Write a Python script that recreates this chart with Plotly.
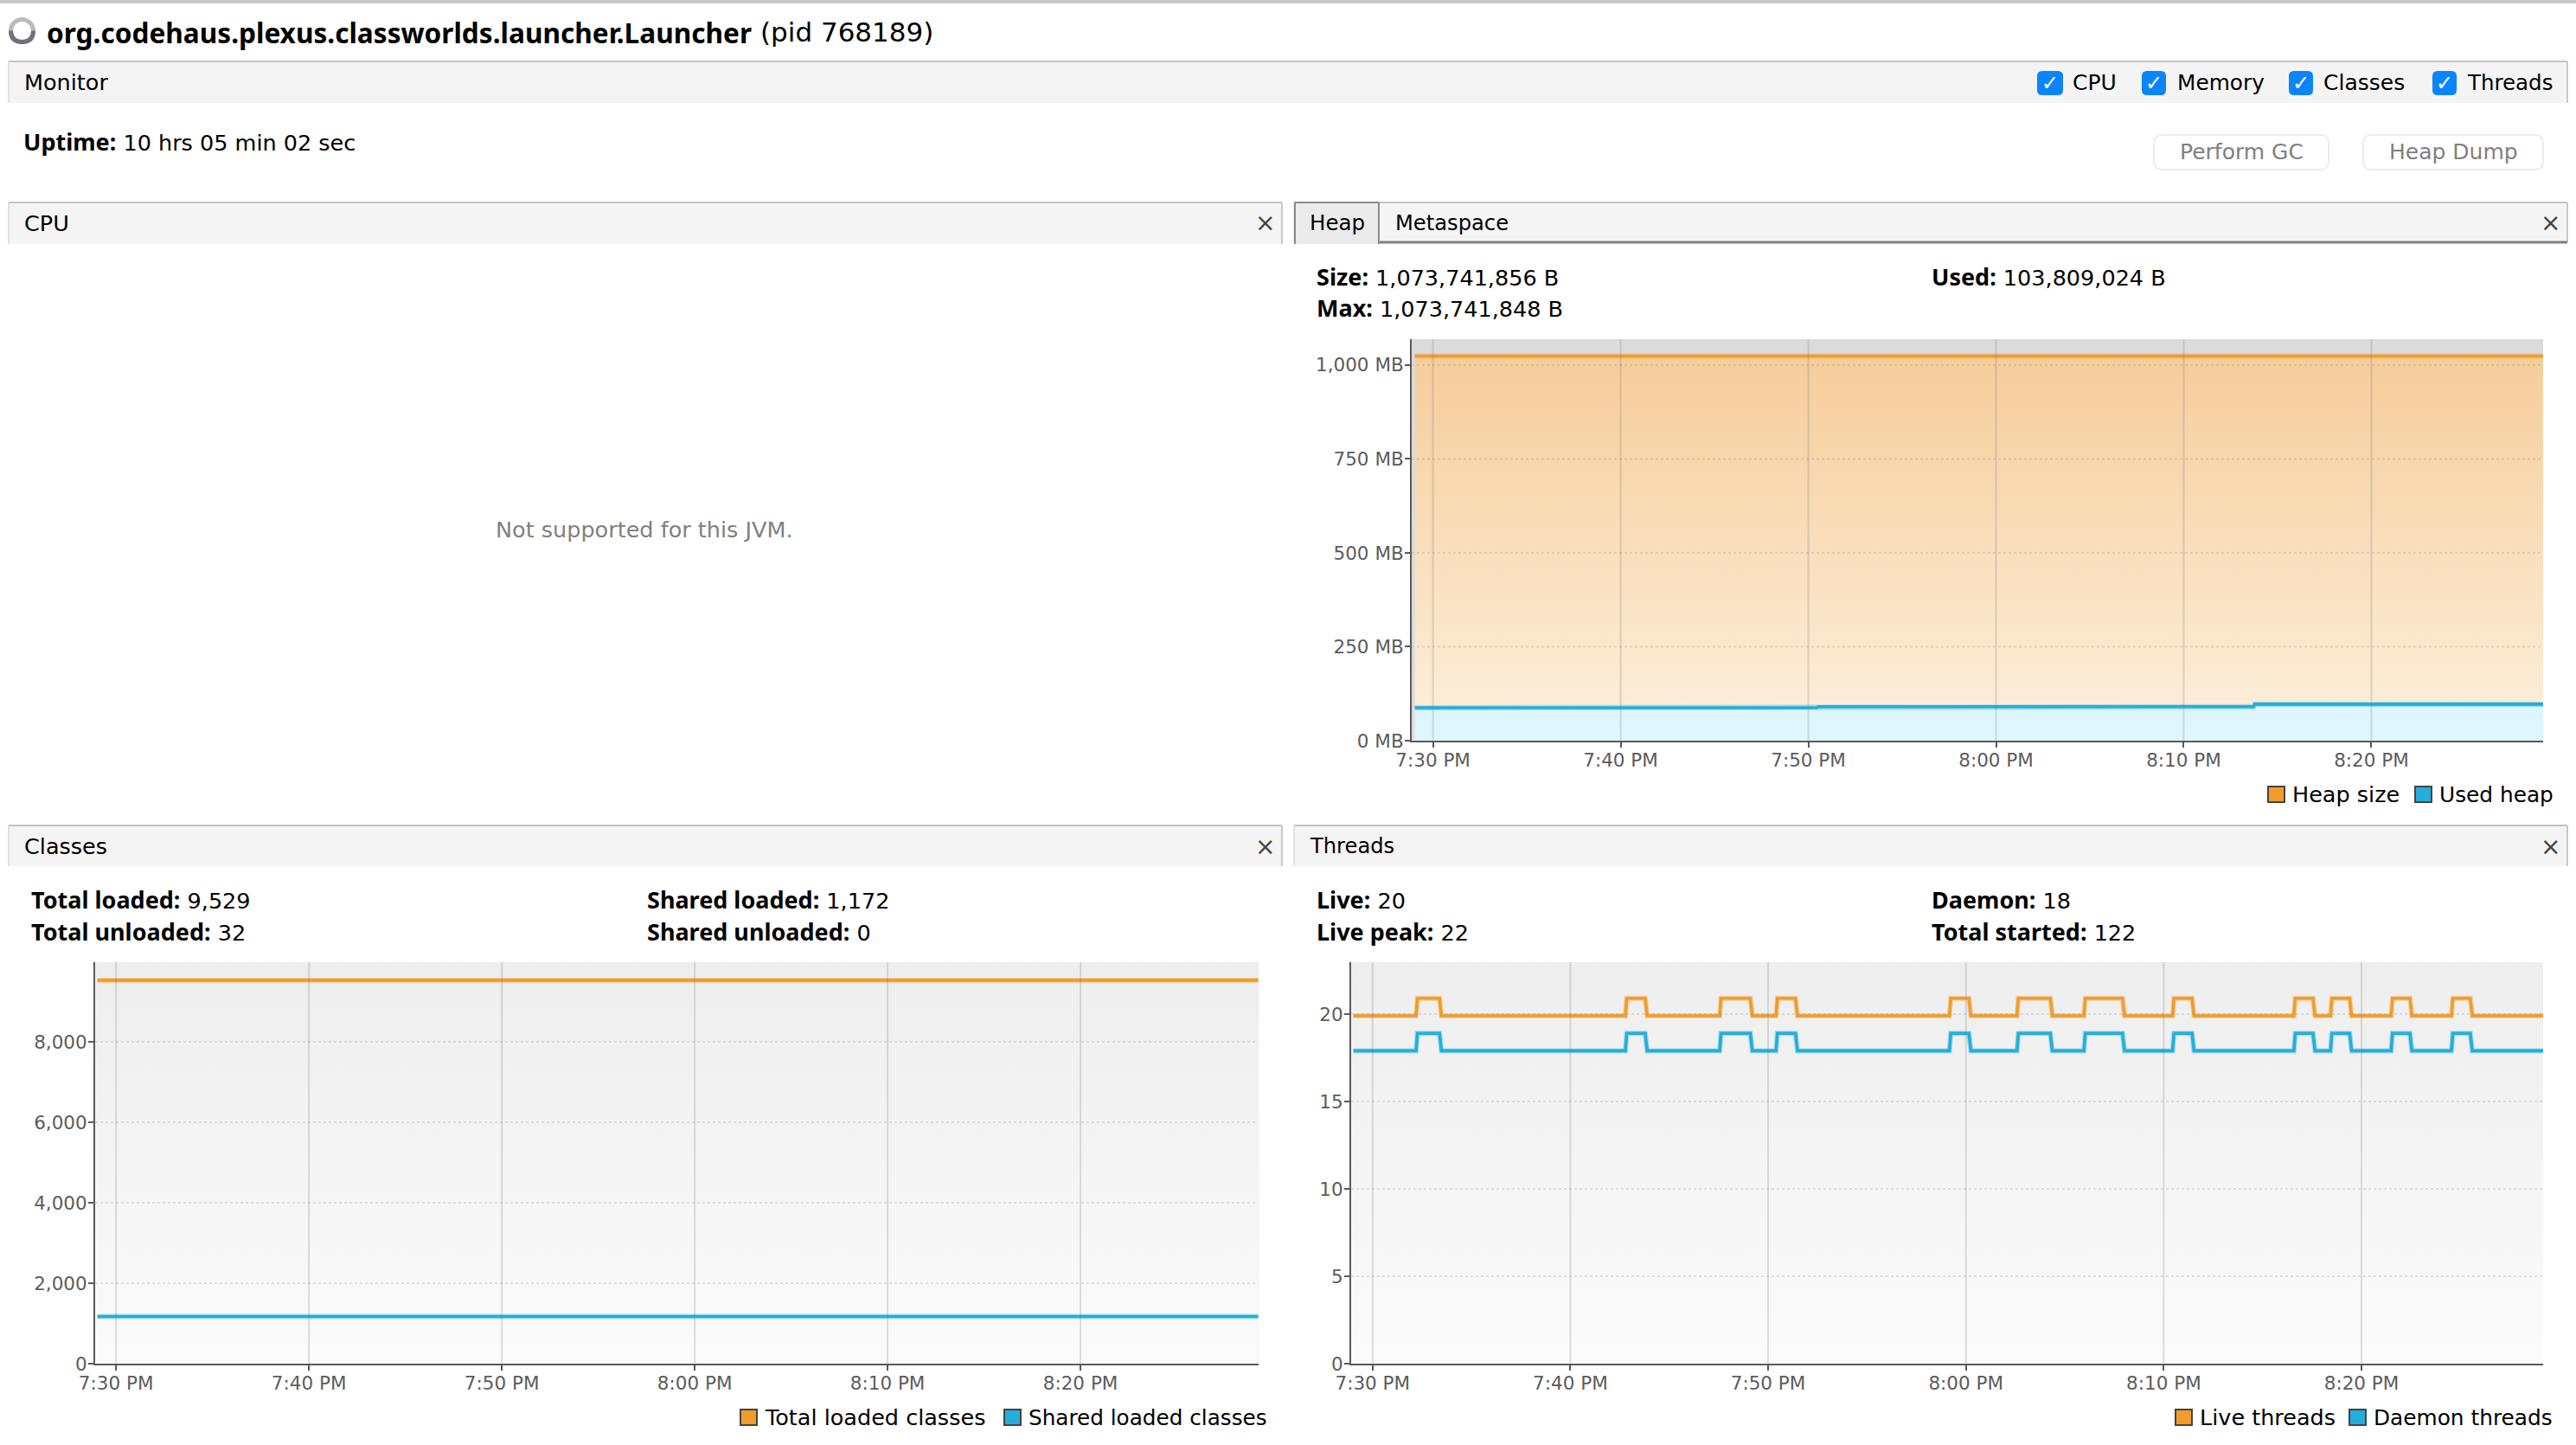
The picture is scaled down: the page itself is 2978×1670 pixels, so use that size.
import plotly.graph_objects as go

W, H = 2978, 1670
DAY = "2021-06-01 "

tick_times = ["19:30", "19:40", "19:50", "20:00", "20:10", "20:20"]
tick_labels = ["7:30 PM", "7:40 PM", "7:50 PM", "8:00 PM", "8:10 PM", "8:20 PM"]

# heap, MB
heap_times = ["19:29:02", "20:29:15"]
heap_size = [1024, 1024]
used_times = ["19:29:02", "19:50:27", "19:50:31", "20:13:43", "20:13:47", "20:29:15"]
used_heap = [87.5, 87.5, 90.5, 90.5, 97, 97]
heap_ticks = [0, 250, 500, 750, 1000]
heap_tick_labels = ["0 MB", "250 MB", "500 MB", "750 MB", "1,000 MB"]

# classes
class_times = ["19:29:02", "20:29:15"]
total_loaded = [9529, 9529]
shared_loaded = [1172, 1172]
class_ticks = [0, 2000, 4000, 6000, 8000]

# threads
thread_times = [
    "19:29:02",
    "19:32:12", "19:32:16", "19:33:23", "19:33:29",
    "19:42:47", "19:42:51", "19:43:47", "19:43:53",
    "19:47:33", "19:47:37", "19:49:06", "19:49:12",
    "19:50:24", "19:50:28", "19:51:23", "19:51:29",
    "19:59:10", "19:59:14", "20:00:09", "20:00:15",
    "20:02:35", "20:02:39", "20:04:16", "20:04:22",
    "20:05:58", "20:06:02", "20:07:55", "20:08:01",
    "20:10:27", "20:10:31", "20:11:26", "20:11:32",
    "20:16:35", "20:16:39", "20:17:33", "20:17:39",
    "20:18:26", "20:18:30", "20:19:24", "20:19:30",
    "20:21:30", "20:21:34", "20:22:27", "20:22:33",
    "20:24:33", "20:24:37", "20:25:30", "20:25:36",
    "20:29:15",
]
live_threads = [
    19.9,
    19.9, 20.9, 20.9, 19.9,
    19.9, 20.9, 20.9, 19.9,
    19.9, 20.9, 20.9, 19.9,
    19.9, 20.9, 20.9, 19.9,
    19.9, 20.9, 20.9, 19.9,
    19.9, 20.9, 20.9, 19.9,
    19.9, 20.9, 20.9, 19.9,
    19.9, 20.9, 20.9, 19.9,
    19.9, 20.9, 20.9, 19.9,
    19.9, 20.9, 20.9, 19.9,
    19.9, 20.9, 20.9, 19.9,
    19.9, 20.9, 20.9, 19.9,
    19.9,
]
daemon_threads = [
    17.9,
    17.9, 18.9, 18.9, 17.9,
    17.9, 18.9, 18.9, 17.9,
    17.9, 18.9, 18.9, 17.9,
    17.9, 18.9, 18.9, 17.9,
    17.9, 18.9, 18.9, 17.9,
    17.9, 18.9, 18.9, 17.9,
    17.9, 18.9, 18.9, 17.9,
    17.9, 18.9, 18.9, 17.9,
    17.9, 18.9, 18.9, 17.9,
    17.9, 18.9, 18.9, 17.9,
    17.9, 18.9, 18.9, 17.9,
    17.9, 18.9, 18.9, 17.9,
    17.9,
]
thread_ticks = [0, 5, 10, 15, 20]

ORANGE = "#f39c28"
BLUE = "#23aedc"
FONT = "DejaVu Sans"
BOLD = "Noto Sans"
TICK = "#5c5c5c"
AXIS = "#5a5a5a"


def X(p):
    return p / W


def Y(p):
    return 1 - p / H


def stamp(times):
    return [DAY + t for t in times]


def bold(text, size=27):
    return f"<span style=\"font-family:'{BOLD}';font-size:{size}px\"><b>{text}</b></span>"


fig = go.Figure()


def add_line(x, y, color, ax):
    fig.add_trace(go.Scatter(x=x, y=y, mode="lines", xaxis="x" + ax, yaxis="y" + ax,
                             line=dict(color=color, width=6), opacity=0.35, showlegend=False))
    fig.add_trace(go.Scatter(x=x, y=y, mode="lines", xaxis="x" + ax, yaxis="y" + ax,
                             line=dict(color=color, width=3.6), showlegend=False))


def add_fill(x, y, c_low, c_high, top, ax):
    fig.add_trace(go.Scatter(x=x, y=y, mode="lines", xaxis="x" + ax, yaxis="y" + ax,
                             line=dict(width=0), fill="tozeroy", showlegend=False,
                             fillgradient=dict(type="vertical", start=0, stop=top,
                                               colorscale=[[0, c_low], [1, c_high]])))


# axes: (suffix, left px, right px, top px, bottom px, time range, y top, y ticks, y labels)
panels = [
    ("", 1632, 2940, 392, 856, ["19:28:52", "20:29:09"], 1069, heap_ticks, heap_tick_labels),
    ("2", 110, 1454.6, 1112, 1576, ["19:28:55", "20:29:13"], 9978, class_ticks,
     ["0", "2,000", "4,000", "6,000", "8,000"]),
    ("3", 1562, 2940, 1112, 1576, ["19:28:55", "20:29:11"], 22.97, thread_ticks,
     ["0", "5", "10", "15", "20"]),
]

layout_axes = {}
for ax, left, right, top, bottom, t_range, y_top, y_ticks, y_labels in panels:
    layout_axes["xaxis" + ax] = dict(
        type="date", domain=[X(left), X(right)], range=stamp(t_range), anchor="y" + ax,
        tickvals=stamp(tick_times), ticktext=tick_labels, ticks="outside", ticklen=6,
        tickwidth=2, tickcolor=AXIS, showline=True, linecolor=AXIS, linewidth=2, automargin=False,
        ticklabelstandoff=-4, showgrid=False, zeroline=False,
        tickfont=dict(family=FONT, size=21.5, color=TICK))
    layout_axes["yaxis" + ax] = dict(
        domain=[Y(bottom), Y(top)], range=[0, y_top], anchor="x" + ax,
        tickvals=y_ticks, ticktext=y_labels, ticks="outside", ticklen=6,
        tickwidth=2, tickcolor=AXIS, showline=True, linecolor=AXIS, linewidth=2, automargin=False,
        ticklabelstandoff=-3, showgrid=False, zeroline=False,
        tickfont=dict(family=FONT, size=21.5, color=TICK))

# heap
add_fill(stamp(heap_times), heap_size, "#fdf0dd", "#f5cd9b", 1024, "")
add_fill(stamp(used_times), used_heap, "#dff6fe", "#dcf5fe", 100, "")
add_line(stamp(heap_times), heap_size, ORANGE, "")
add_line(stamp(used_times), used_heap, BLUE, "")

# classes
add_fill(stamp(panels[1][5]), [9978, 9978], "#fbfbfb", "#eeeeee", 9978, "2")
add_line(stamp(class_times), total_loaded, ORANGE, "2")
add_line(stamp(class_times), shared_loaded, BLUE, "2")

# threads
add_fill(stamp(panels[2][5]), [22.97, 22.97], "#fbfbfb", "#eeeeee", 22.97, "3")
add_line(stamp(thread_times), live_threads, ORANGE, "3")
add_line(stamp(thread_times), daemon_threads, BLUE, "3")

shapes = []
annotations = []


def rect(x0, y0, x1, y1, fill, line=None, width=0):
    shapes.append(dict(type="rect", xref="paper", yref="paper", x0=X(x0), x1=X(x1), y0=Y(y0), y1=Y(y1),
                       fillcolor=fill, line=dict(color=line or fill, width=width), layer="below"))


def hline(x0, x1, y, color, width=2):
    shapes.append(dict(type="line", xref="paper", yref="paper", x0=X(x0), x1=X(x1), y0=Y(y), y1=Y(y),
                       line=dict(color=color, width=width), layer="below"))


def vline(x, y0, y1, color, width=2):
    shapes.append(dict(type="line", xref="paper", yref="paper", x0=X(x), x1=X(x), y0=Y(y0), y1=Y(y1),
                       line=dict(color=color, width=width), layer="below"))


def rounded(x0, y0, x1, y1, r, fill, line=None, width=0, layer="above"):
    a, b, c, d = X(x0), Y(y0), X(x1), Y(y1)
    rx, ry = r / W, r / H
    path = (f"M {a + rx} {b} L {c - rx} {b} Q {c} {b} {c} {b - ry} L {c} {d + ry} Q {c} {d} {c - rx} {d} "
            f"L {a + rx} {d} Q {a} {d} {a} {d + ry} L {a} {b - ry} Q {a} {b} {a + rx} {b} Z")
    shapes.append(dict(type="path", xref="paper", yref="paper", path=path, fillcolor=fill,
                       line=dict(color=line or fill, width=width), layer=layer))


def label(x, y, text, size=25.5, color="#000000", anchor="left"):
    if anchor == "left":
        x -= 2
    annotations.append(dict(xref="paper", yref="paper", x=X(x), y=Y(y), text=text, showarrow=False,
                            xanchor=anchor, yanchor="middle", align=anchor,
                            font=dict(family=FONT, size=size, color=color)))


# window chrome
rect(0, 0, W, 4, "#c9c9c9")
shapes.append(dict(type="circle", xref="paper", yref="paper", x0=X(12.5), x1=X(38.5), y0=Y(22.5), y1=Y(48.5),
                   line=dict(color="#b9bbc1", width=5), layer="above"))
shapes.append(dict(type="path", xref="paper", yref="paper", line=dict(color="#6f727a", width=5), layer="above",
                   path=f"M {X(12.5)} {Y(35.5)} Q {X(12.5)} {Y(48.5)} {X(25.5)} {Y(48.5)} "
                        f"Q {X(38.5)} {Y(48.5)} {X(38.5)} {Y(35.5)}"))
label(54, 37, bold("org.codehaus.plexus.classworlds.launcher.Launcher", 31.6), 31)
label(879, 37, "(pid 768189)", 31)

# header strips
for left, right, top, bottom in [(10, 2968, 71, 119), (10, 1482, 234, 282), (1496, 2968, 234, 280),
                                 (10, 1482, 954, 1001), (1496, 2968, 954, 1001)]:
    rect(left, top, right, bottom, "#f4f4f4")
    hline(left, right, top, "#c4c4c4")
    vline(left, top, bottom, "#c8c8c8", 1)
    vline(right, top, bottom, "#c8c8c8", 2)

hline(1594, 2968, 280, "#808080", 3)
rect(1497, 234, 1594, 282, "#ebebeb")
hline(1497, 1594, 234, "#8a8a8a")
vline(1497, 234, 282, "#8a8a8a")
vline(1594, 234, 282, "#8a8a8a")

label(28, 95, "Monitor")
label(28, 258, "CPU")
label(1514, 258, "Heap", 24.5)
label(1613, 258, "Metaspace", 24.2)
label(28, 978, "Classes")
label(1514, 978, "Threads", 24.2)
for x, y in [(1462, 258), (2948, 258), (1462, 978), (2948, 978)]:
    label(x, y, "×", 28, "#444444", "center")

# check boxes
for left, right, x_text, name, size in [(2355, 2385, 2396, "CPU", 25), (2476, 2504, 2517, "Memory", 24.8),
                                        (2646, 2674, 2686, "Classes", 25), (2812, 2840, 2852, "Threads", 24.5)]:
    rounded(left, 82, right, 110, 6, "#0a84ff")
    label((left + right) / 2, 96, "✓", 24, "#ffffff", "center")
    label(x_text, 96, name, size)

# buttons
rounded(2490, 156, 2692, 196, 10, "#ffffff", "#ececec", 2)
rounded(2732, 156, 2940, 196, 10, "#ffffff", "#ececec", 2)
label(2591, 175, "Perform GC", 25, "#808080", "center")
label(2836, 175, "Heap Dump", 25, "#808080", "center")

label(27, 163, bold("Uptime:") + " 10 hrs 05 min 02 sec")
label(745, 612, "Not supported for this JVM.", 25.5, "#808080", "center")

label(1522, 319, bold("Size:") + " 1,073,741,856 B")
label(1522, 356, bold("Max:") + " 1,073,741,848 B")
label(2233, 319, bold("Used:") + " 103,809,024 B")

label(36, 1039, bold("Total loaded:") + " 9,529")
label(36, 1076, bold("Total unloaded:") + " 32")
label(748, 1039, bold("Shared loaded:") + " 1,172")
label(748, 1076, bold("Shared unloaded:") + " 0")

label(1522, 1039, bold("Live:") + " 20")
label(1522, 1076, bold("Live peak:") + " 22")
label(2233, 1039, bold("Daemon:") + " 18")
label(2233, 1076, bold("Total started:") + " 122")

# legends
for x, y, color, text, size in [(2622, 918, ORANGE, "Heap size", 25.5), (2792, 918, BLUE, "Used heap", 24.8),
                                (856, 1638, ORANGE, "Total loaded classes", 25.5),
                                (1161, 1638, BLUE, "Shared loaded classes", 24.7),
                                (2515, 1638, ORANGE, "Live threads", 25.5), (2716, 1638, BLUE, "Daemon threads", 24.8)]:
    rect(x, y - 9, x + 19, y + 9, color, "#444444", 2)
    label(x + 28, y, text, size)

# grid sits over the fills
for ax, left, right, top, bottom, t_range, y_top, y_ticks, y_labels in panels:
    for t in stamp(tick_times):
        shapes.append(dict(type="line", xref="x" + ax, yref=f"y{ax} domain", x0=t, x1=t, y0=0, y1=1,
                           line=dict(color="rgba(110,110,110,0.22)", width=2), layer="above"))
    for v in y_ticks[1:]:
        shapes.append(dict(type="line", xref=f"x{ax} domain", yref="y" + ax, x0=0, x1=1, y0=v, y1=v,
                           line=dict(color="rgba(130,130,130,0.22)", width=2, dash="dot"), layer="above"))

fig.update_layout(width=W, height=H, margin=dict(l=0, r=0, t=0, b=0, autoexpand=False), paper_bgcolor="#ffffff",
                  plot_bgcolor="#dbdbdb", showlegend=False, shapes=shapes, annotations=annotations,
                  **layout_axes)
fig.write_html("out.html", post_script="document.body.style.margin='0';", config={"displayModeBar": False})
